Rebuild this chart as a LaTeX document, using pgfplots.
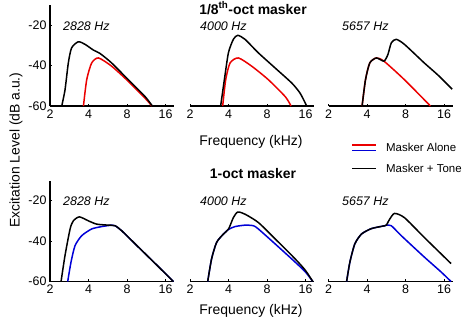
\documentclass[border=0pt]{standalone}
\usepackage{fontspec}
\setmainfont{Liberation Sans}
\usepackage{pgfplots}
\pgfplotsset{compat=1.18}
\definecolor{mred}{RGB}{235,0,0}
\definecolor{mblue}{RGB}{0,0,215}
\begin{document}
\begin{tikzpicture}
\useasboundingbox (0,0) rectangle (474bp,-321bp);
% ---------- top row ----------
\begin{axis}[at={(50bp,-106bp)}, anchor=south west, scale only axis, width=124bp, height=101bp,
    xmode=log, log basis x=2, xmin=2, xmax=18.6, ymin=-60, ymax=-10,
    xtick={2,4,8,16}, xticklabels={2,4,8,16}, axis x line=bottom, axis y line=left,
    ytick={-60,-40,-20}, yticklabels={-60,-40,-20},
    axis line style={-, line width=1.1bp}, tick align=inside, major tick length=2.5bp,
    tick style={line width=0.8bp, black},
    ticklabel style={font=\fontsize{12.5}{14}\selectfont}, clip=false]
\addplot[line width=1.5bp, no marks, smooth, tension=0.4, mred] coordinates {(3.65,-60) (3.87,-47) (4.23,-38.7) (4.78,-36.2) (6.06,-40.3) (8.18,-47.8) (11.08,-56.2) (12.5,-60)};
\addplot[line width=1.5bp, no marks, smooth, tension=0.4, black] coordinates {(2.47,-60) (2.62,-52) (2.78,-38.7) (2.95,-31.2) (3.33,-28.2) (3.76,-29.5) (4.36,-32.3) (4.92,-34) (6.06,-38.7) (8.18,-47) (11.08,-55.4) (12.6,-60)};
\end{axis}
\begin{axis}[at={(190bp,-106bp)}, anchor=south west, scale only axis, width=124bp, height=101bp,
    xmode=log, log basis x=2, xmin=2, xmax=18.6, ymin=-60, ymax=-10,
    xtick={2,4,8,16}, xticklabels={2,4,8,16}, axis x line=bottom, axis y line=none,
    axis line style={-, line width=1.1bp}, tick align=inside, major tick length=2.5bp,
    tick style={line width=0.8bp, black},
    ticklabel style={font=\fontsize{12.5}{14}\selectfont}, clip=false]
\addplot[line width=1.5bp, no marks, smooth, tension=0.4, mred] coordinates {(3.6,-60) (3.8,-47) (4.11,-38.7) (4.77,-36.2) (6.07,-40.3) (8.19,-47) (11.1,-55.4) (12.3,-60)};
\addplot[line width=1.5bp, no marks, smooth, tension=0.4, black] coordinates {(3.47,-60) (3.71,-47) (3.99,-33.7) (4.36,-27) (4.72,-25) (5.38,-27) (6.84,-33.7) (9.25,-41.2) (12.5,-48.7) (14.5,-53.7) (16.3,-60)};
\end{axis}
\begin{axis}[at={(328.5bp,-106bp)}, anchor=south west, scale only axis, width=124bp, height=101bp,
    xmode=log, log basis x=2, xmin=2, xmax=18.6, ymin=-60, ymax=-10,
    xtick={2,4,8,16}, xticklabels={2,4,8,16}, axis x line=bottom, axis y line=none,
    axis line style={-, line width=1.1bp}, tick align=inside, major tick length=2.5bp,
    tick style={line width=0.8bp, black},
    ticklabel style={font=\fontsize{12.5}{14}\selectfont}, clip=false]
\addplot[line width=1.5bp, no marks, smooth, tension=0.4, mred] coordinates {(3.66,-60) (3.89,-47) (4.2,-38.7) (4.73,-36.2) (5.42,-37.8) (7.84,-47) (12.5,-60)};
\addplot[line width=1.5bp, no marks, smooth, tension=0.4, black] coordinates {(3.66,-60) (3.89,-47) (4.2,-38.7) (4.73,-36.2) (5.42,-37.8) (5.82,-34.5) (6.19,-28.7) (6.76,-27) (7.84,-29.5) (11.2,-38.7) (14.5,-45) (18.5,-51.7)};
\end{axis}
% ---------- bottom row ----------
\begin{axis}[at={(50bp,-281.5bp)}, anchor=south west, scale only axis, width=124bp, height=101bp,
    xmode=log, log basis x=2, xmin=2, xmax=18.6, ymin=-60, ymax=-10,
    xtick={2,4,8,16}, xticklabels={2,4,8,16}, axis x line=bottom, axis y line=left,
    ytick={-60,-40,-20}, yticklabels={-60,-40,-20},
    axis line style={-, line width=1.1bp}, tick align=inside, major tick length=2.5bp,
    tick style={line width=0.8bp, black},
    ticklabel style={font=\fontsize{12.5}{14}\selectfont}, clip=false]
\addplot[line width=1.5bp, no marks, smooth, tension=0.4, mblue] coordinates {(2.75,-60) (2.92,-50.3) (3.14,-42.2) (3.54,-37.3) (4.23,-34) (5.07,-32.8) (6.07,-32.1) (6.45,-32.4) (7.27,-34.9) (9.25,-41.4) (12.5,-49.5) (15.9,-56) (18.4,-60)};
\addplot[line width=1.5bp, no marks, smooth, tension=0.4, black] coordinates {(2.44,-60) (2.62,-47.1) (2.87,-34) (3.04,-30) (3.39,-28) (4,-30) (4.63,-31.6) (5.71,-32.1) (6.45,-32.4) (7.27,-34.9) (9.25,-41.4) (12.5,-49.5) (15.9,-56) (18.4,-60)};
\end{axis}
\begin{axis}[at={(190bp,-281.5bp)}, anchor=south west, scale only axis, width=124bp, height=101bp,
    xmode=log, log basis x=2, xmin=2, xmax=18.6, ymin=-60, ymax=-10,
    xtick={2,4,8,16}, xticklabels={2,4,8,16}, axis x line=bottom, axis y line=none,
    axis line style={-, line width=1.1bp}, tick align=inside, major tick length=2.5bp,
    tick style={line width=0.8bp, black},
    ticklabel style={font=\fontsize{12.5}{14}\selectfont}, clip=false]
\addplot[line width=1.5bp, no marks, smooth, tension=0.4, mblue] coordinates {(2.75,-60) (2.95,-48.7) (3.23,-40.6) (3.65,-36.5) (4.0,-34.2) (4.5,-32.8) (5.39,-32.1) (6.26,-32.4) (6.84,-34) (9.25,-41.4) (13.2,-50.3) (15.9,-55.2) (18.2,-60)};
\addplot[line width=1.5bp, no marks, smooth, tension=0.4, black] coordinates {(2.75,-60) (2.95,-48.7) (3.23,-40.6) (3.65,-36.5) (4,-34) (4.36,-28.4) (4.72,-25.6) (5.39,-26.7) (6.84,-30.8) (9.25,-38.9) (13.2,-48.7) (15.9,-54.4) (18.2,-60)};
\end{axis}
\begin{axis}[at={(328.5bp,-281.5bp)}, anchor=south west, scale only axis, width=124bp, height=101bp,
    xmode=log, log basis x=2, xmin=2, xmax=18.6, ymin=-60, ymax=-10,
    xtick={2,4,8,16}, xticklabels={2,4,8,16}, axis x line=bottom, axis y line=none,
    axis line style={-, line width=1.1bp}, tick align=inside, major tick length=2.5bp,
    tick style={line width=0.8bp, black},
    ticklabel style={font=\fontsize{12.5}{14}\selectfont}, clip=false]
\addplot[line width=1.5bp, no marks, smooth, tension=0.4, mblue] coordinates {(2.77,-60) (2.94,-50.3) (3.21,-41.4) (3.62,-36.5) (4.33,-33.8) (5.49,-32.4) (5.66,-32.1) (6.19,-32.4) (7.4,-37.3) (11.2,-47.9) (15.1,-55.2) (18.1,-60)};
\addplot[line width=1.5bp, no marks, smooth, tension=0.4, black] coordinates {(2.77,-60) (2.94,-50.3) (3.21,-41.4) (3.62,-36.5) (4.33,-33.8) (5.49,-32.4) (5.66,-32.1) (6,-29.2) (6.56,-26.3) (7.84,-28.4) (11.2,-38.2) (18.1,-51.1)};
\end{axis}
% ---------- text ----------
\node[font=\bfseries\fontsize{14}{16}\selectfont] at (253bp,-8bp) {1/8\textsuperscript{th}-oct masker};
\node[font=\bfseries\fontsize{14}{16}\selectfont] at (253bp,-174bp) {1-oct masker};
\node[font=\fontsize{14}{16}\selectfont] at (251bp,-141.5bp) {Frequency (kHz)};
\node[font=\fontsize{14}{16}\selectfont] at (251bp,-310.5bp) {Frequency (kHz)};
\node[font=\fontsize{14}{16}\selectfont, rotate=90] at (16bp,-150bp) {Excitation Level (dB a.u.)};
\foreach \x/\t in {63/2828, 200/4000, 342/5657}{
  \node[font=\itshape\fontsize{12.5}{14}\selectfont, anchor=west, inner sep=0pt] at (\x bp,-26.5bp) {\t\ Hz};
  \node[font=\itshape\fontsize{12.5}{14}\selectfont, anchor=west, inner sep=0pt] at (\x bp,-201bp) {\t\ Hz};
}
% legend
\draw[mred, line width=1.3bp] (352bp,-145bp) -- (376bp,-145bp);
\draw[mblue, line width=1.3bp] (352bp,-150.7bp) -- (376bp,-150.7bp);
\draw[black, line width=1.3bp] (352bp,-168.3bp) -- (376bp,-168.3bp);
\node[font=\fontsize{11.5}{13}\selectfont, anchor=west, inner sep=0pt] at (386bp,-147bp) {Masker Alone};
\node[font=\fontsize{11.5}{13}\selectfont, anchor=west, inner sep=0pt] at (386bp,-168.3bp) {Masker + Tone};
\end{tikzpicture}
\end{document}
